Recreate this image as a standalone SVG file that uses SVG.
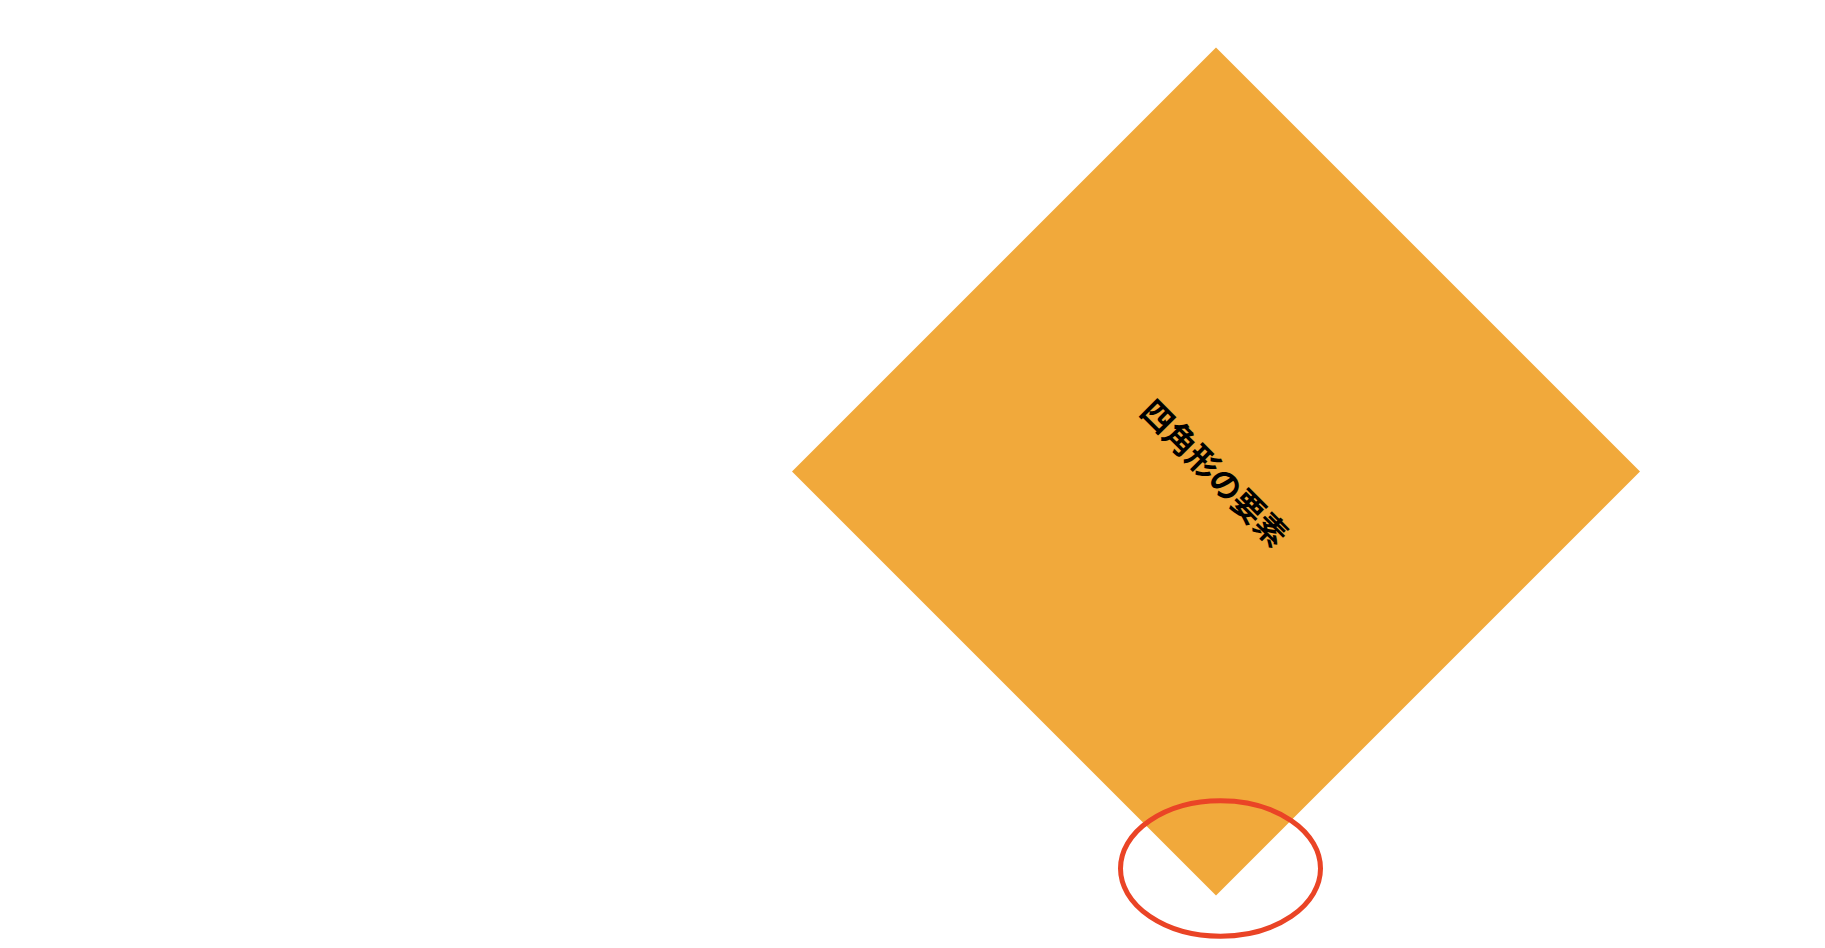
<svg xmlns="http://www.w3.org/2000/svg" width="1825" height="948" viewBox="0 0 1825 948">
<style>
.shape{fill:#F1A93B;stroke:none}
.lbl{font-family:"Noto Sans CJK JP","Noto Sans CJK SC",sans-serif;font-size:32px;font-weight:700;fill:#000}
.ring{fill:none;stroke:#EA4426;stroke-width:5}
</style>
<rect width="1825" height="948" fill="#fff"/>
<g id="node-square">
<polygon class="shape" points="1216,47.5 1640,471.5 1216,895.5 792,471.5"/>
<text class="lbl" x="1216" y="471.5" text-anchor="middle" dominant-baseline="central" transform="rotate(45 1216 471.5)">四角形の要素</text>
</g>
<g id="node-ellipse">
<ellipse class="ring" cx="1220.5" cy="868.5" rx="100" ry="67.7"/>
</g>
<g id="connectors"></g>
</svg>
